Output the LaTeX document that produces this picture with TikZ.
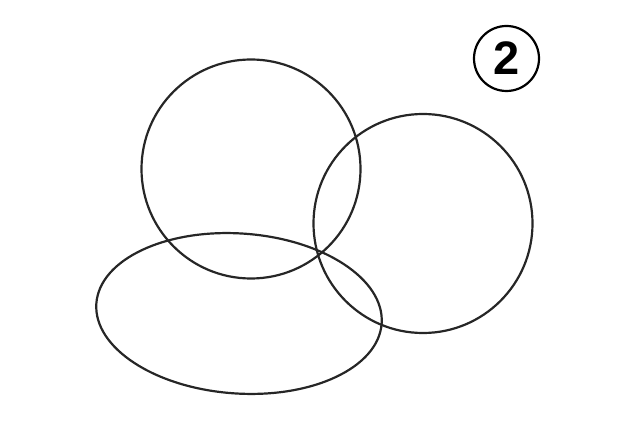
\documentclass[tikz,border=0pt]{standalone}
\usepackage{fontspec}
\setmainfont{Liberation Sans}
\usetikzlibrary{shapes.geometric}
\tikzset{
    ring/.style = {draw=black!85, line width=2.2pt, circle, inner sep=0pt, minimum size=219pt},
    oval/.style = {draw=black!85, line width=2.2pt, ellipse, inner sep=0pt, minimum width=286pt, minimum height=160pt, rotate=-4},
    badge/.style = {draw=black, line width=2.2pt, circle, inner sep=0pt, minimum size=65pt, font=\fontsize{47}{47}\selectfont\bfseries},
}

\begin{document}
\begin{tikzpicture}[x=1pt, y=-1pt]
\useasboundingbox (0,0) rectangle (640,427);
\node [ring] (left) at (251,169) {};
\node [ring] (right) at (423,223.5) {};
\node [oval] (bottom) at (239,313.5) {};
\node [badge] (number) at (506.5,58.5) {2};
\end{tikzpicture}
\end{document}
